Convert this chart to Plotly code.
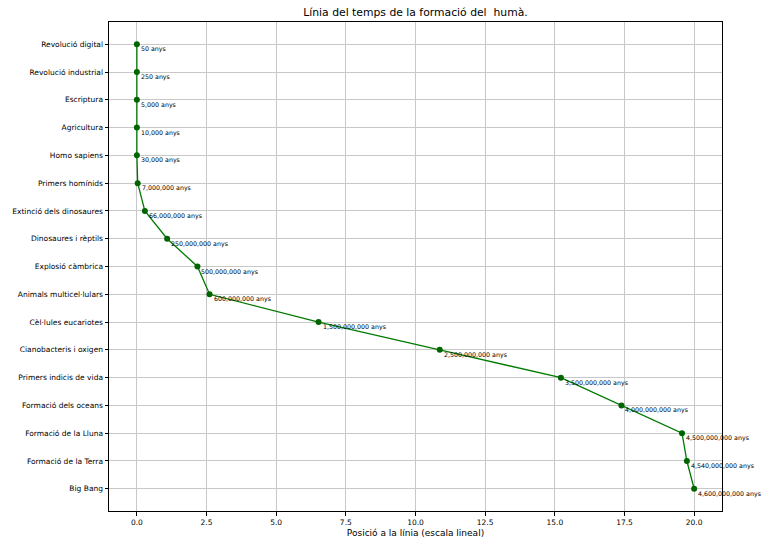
import plotly.graph_objects as go

events = ["Big Bang", "Formació de la Terra", "Formació de la Lluna", "Formació dels oceans",
          "Primers indicis de vida", "Cianobacteris i oxigen", "Cèl·lules eucariotes",
          "Animals multicel·lulars", "Explosió càmbrica", "Dinosaures i rèptils",
          "Extinció dels dinosaures", "Primers homínids", "Homo sapiens", "Agricultura",
          "Escriptura", "Revolució industrial", "Revolució digital"]
years = [4600000000, 4540000000, 4500000000, 4000000000, 3500000000, 2500000000,
         1500000000, 600000000, 500000000, 250000000, 66000000, 7000000, 30000,
         10000, 5000, 250, 50]
scale_max = 20.0

positions = [y / max(years) * scale_max for y in years]
labels = [f"{y:,} anys" for y in years]

fig = go.Figure()
fig.add_trace(go.Scatter(
    x=positions, y=events, mode="lines+markers",
    line=dict(color="#007a00", width=1.3),
    marker=dict(color="#006400", size=6),
    showlegend=False, hoverinfo="skip"))

for p, e, t in zip(positions, events, labels):
    fig.add_annotation(x=p, y=e, text=t, showarrow=False, xanchor="left", yanchor="middle",
                       xshift=2, yshift=-5, font=dict(size=6.3, color="black",
                       family="DejaVu Sans"))

axis_common = dict(showline=True, linecolor="black", linewidth=1, mirror=True,
                   showgrid=True, gridcolor="#c8c8c8", gridwidth=1,
                   ticks="outside", ticklen=3.5, tickcolor="black", zeroline=False,
                   tickfont=dict(size=7.5, family="DejaVu Sans", color="black"))

fig.update_layout(
    width=768, height=549,
    margin=dict(l=106, r=46, t=22, b=35),
    paper_bgcolor="white", plot_bgcolor="white",
    title=dict(text="Línia del temps de la formació del  humà.", x=0.5, xref="paper",
               xanchor="center", y=1 - 12 / 549, yanchor="middle",
               font=dict(size=10.8, family="DejaVu Sans", color="black")),
    xaxis=dict(range=[-1, 21], tickvals=[0, 2.5, 5, 7.5, 10, 12.5, 15, 17.5, 20],
               ticktext=["0.0", "2.5", "5.0", "7.5", "10.0", "12.5", "15.0", "17.5", "20.0"],
               title=dict(text="Posició a la línia (escala lineal)", standoff=4,
                          font=dict(size=9, family="DejaVu Sans", color="black")),
               **axis_common),
    yaxis=dict(type="category", categoryorder="array", categoryarray=events,
               range=[-0.8, 16.8], **axis_common),
)

fig.write_html("out.html", config={"displayModeBar": False},
               post_script="document.body.style.margin='0';")
